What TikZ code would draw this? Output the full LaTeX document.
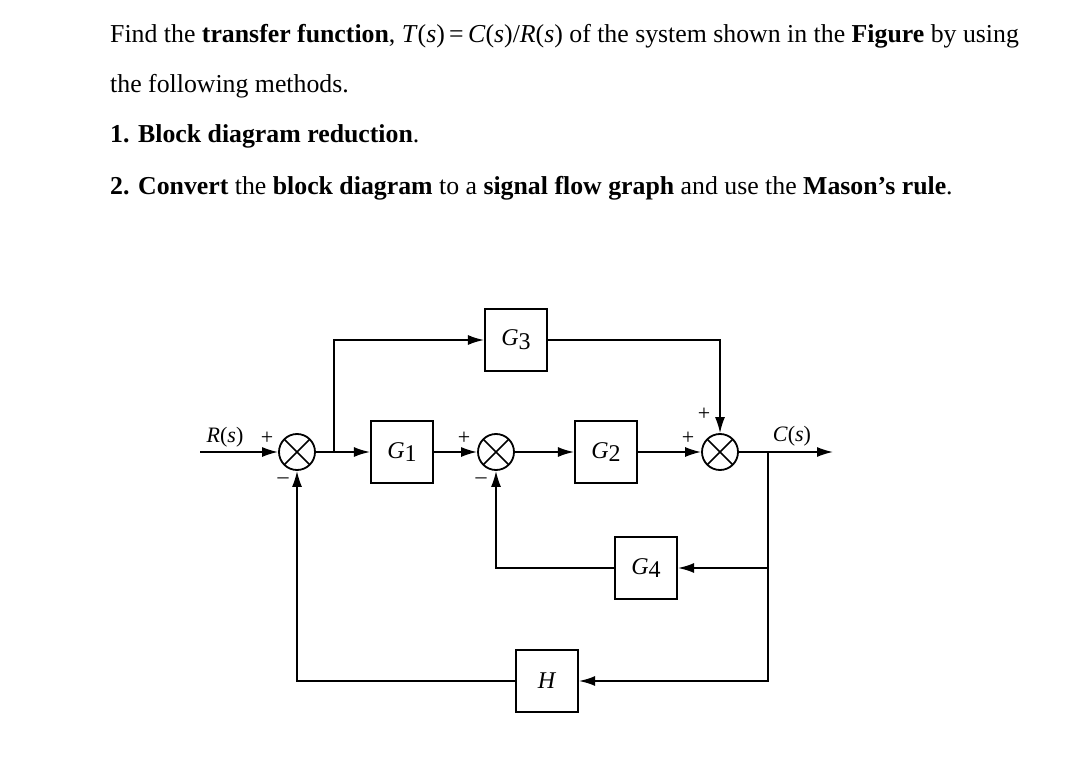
\documentclass[tikz,border=0pt]{standalone}
\usepackage{fontspec}
\setmainfont{Liberation Serif}
\usetikzlibrary{arrows.meta}
\begin{document}
\begin{tikzpicture}[x=1pt,y=-1pt,
  blk/.style={draw,line width=2.2pt,minimum width=62pt,minimum height=62pt,inner sep=0pt,font=\fontsize{24}{26}\selectfont},
  sum/.style={draw,line width=1.8pt,circle,minimum size=36pt,inner sep=0pt,
    path picture={\draw[line width=1.6pt] (path picture bounding box.south west)--(path picture bounding box.north east) (path picture bounding box.north west)--(path picture bounding box.south east);}},
  sig/.style={line width=1.6pt,-{Latex[length=16pt,width=10pt]}},
  lab/.style={font=\fontsize{22}{24}\selectfont,inner sep=0pt},
  txt/.style={anchor=base west,inner sep=0pt,font=\fontsize{25.8}{28}\selectfont}]
\useasboundingbox (0,0) rectangle (1080,770);
\node[txt] (t1) at (110,43) {Find the \textbf{transfer function}, \textit{T}(\textit{s})\,=\,\textit{C}(\textit{s})/\textit{R}(\textit{s}) of the system shown in the \textbf{Figure} by using};
\node[txt] (t2) at (110,93) {the following methods.};
\node[txt] (t3) at (110,143) {\textbf{1. Block diagram reduction}.};
\node[txt] (t4) at (110,195) {\textbf{2. Convert} the \textbf{block diagram} to a \textbf{signal flow graph} and use the \textbf{Mason’s rule}.};

\node[sum] (s1) at (297,452) {};
\node[sum] (s2) at (496,452) {};
\node[sum] (s3) at (720,452) {};
\node[blk] (g1) at (402,452) {\textit{G}\raisebox{-0.35ex}{1}};
\node[blk] (g2) at (606,452) {\textit{G}\raisebox{-0.35ex}{2}};
\node[blk] (g3) at (516,340) {\textit{G}\raisebox{-0.35ex}{3}};
\node[blk] (g4) at (646,568) {\textit{G}\raisebox{-0.35ex}{4}};
\node[blk] (h) at (547,681) {\textit{H}};
\coordinate (in) at (200,452);
\coordinate (out) at (833,452);
\coordinate (b1) at (334,452);
\coordinate (b2) at (768,452);

\draw[sig] (in) -- (s1);
\draw[sig] (s1) -- (g1);
\draw[sig] (g1) -- (s2);
\draw[sig] (s2) -- (g2);
\draw[sig] (g2) -- (s3);
\draw[sig] (s3) -- (out);
\draw[sig] (b1) |- (g3);
\draw[sig] (g3) -| (s3);
\draw[sig] (b2) |- (g4);
\draw[sig] (g4) -| (s2);
\draw[sig] (b2) |- (h);
\draw[sig] (h) -| (s1);

\node[lab] (lr) at (225,437) {\textit{R}(\textit{s})};
\node[lab] (lc) at (792,436) {\textit{C}(\textit{s})};
\node[lab] (p1) at (267,438) {+};
\node[lab] (m1) at (283,481) {\textendash};
\node[lab] (p2) at (464,438) {+};
\node[lab] (m2) at (481,481) {\textendash};
\node[lab] (p3) at (688,438) {+};
\node[lab] (p4) at (704,414) {+};
\end{tikzpicture}
\end{document}
